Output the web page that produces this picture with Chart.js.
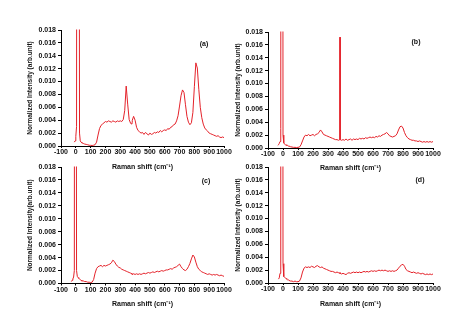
<!DOCTYPE html>
<html>
<head>
<meta charset="utf-8">
<script src="https://cdn.jsdelivr.net/npm/chart.js@4.4.1/dist/chart.umd.min.js"></script>
<style>
  html, body { margin: 0; padding: 0; background: #fff; }
  #wrap { position: relative; width: 474px; height: 331px; }
  #wrap canvas { position: absolute; left: 0; top: 0; }
</style>
</head>
<body>
<div id="wrap">
  <canvas id="chartA" width="474" height="331"></canvas>
  <canvas id="chartB" width="474" height="331"></canvas>
  <canvas id="chartC" width="474" height="331"></canvas>
  <canvas id="chartD" width="474" height="331"></canvas>
</div>
<script>
// Raman shift grid (cm-1), finer around the laser line and the 380 spike
const ramanShift = [
  -40, -35, -30, -25, -20, -15, -10, -5, 0, 5, 10, 15, 20, 25, 30, 35,
  40, 50, 60, 70, 80, 90, 100, 110, 120, 130,
  140, 150, 160, 170, 180, 190, 200, 210, 220, 230,
  240, 250, 260, 270, 280, 290, 300, 310, 320, 330,
  340, 350, 360, 370, 379, 380, 381, 390,
  400, 410, 420, 430, 440, 450, 460, 470, 480, 490,
  500, 510, 520, 530, 540, 550, 560, 570, 580, 590,
  600, 610, 620, 630, 640, 650, 660, 670, 680, 690,
  700, 710, 720, 730, 740, 750, 760, 770, 780, 790,
  800, 810, 820, 830, 840, 850, 860, 870, 880, 890,
  900, 910, 920, 930, 940, 950, 960, 970, 980, 990, 1000
];

const intensityA = [
  null, null, null, null, null, null, 0.0006, 0.0008, 0.0015, 0.003, 0.2, 0.2, 0.2, 0.002, 0.0008, 0.0006,
  0.0005, 0.0004, 0.0003, 0.00025, 0.0002, 0.00012, 0.0001, 0.00008, 0.00012, 0.0002,
  0.0006, 0.0017, 0.0027, 0.0032, 0.0034, 0.0036, 0.0038, 0.0037, 0.0039, 0.0038,
  0.0037, 0.0039, 0.0038, 0.0037, 0.0039, 0.0038, 0.0039, 0.0038, 0.0041, 0.0055,
  0.0093, 0.0065, 0.0041, 0.0035, 0.0034, 0.0037, 0.0040, 0.0046,
  0.0040, 0.0029, 0.0024, 0.0022, 0.0020, 0.0021, 0.0018, 0.0021, 0.0019, 0.0017,
  0.0020, 0.0018, 0.0019, 0.0021, 0.0020, 0.0022, 0.0021, 0.0024, 0.0022, 0.0024,
  0.0025, 0.0024, 0.0027, 0.0026, 0.0029, 0.0030, 0.0033, 0.0034, 0.0039, 0.0047,
  0.0062, 0.0078, 0.0087, 0.0083, 0.0064, 0.0046, 0.0037, 0.0033, 0.0036, 0.0052,
  0.0092, 0.0129, 0.0121, 0.0088, 0.0060, 0.0044, 0.0034, 0.0028, 0.0025, 0.0023,
  0.0020, 0.0019, 0.0018, 0.0017, 0.0016, 0.0015, 0.0016, 0.0014, 0.0013, 0.0014, 0.0013
];

const intensityB = [
  null, 0.0004, 0.0005, 0.0007, 0.0010, 0.0030, 0.2, 0.2, 0.0020, 0.0008, 0.0006, 0.0005, 0.0005, 0.0004, 0.0004, 0.0003,
  0.0003, 0.0002, 0.00015, 0.0001, 0.0001, 0.00008, 0.0001, 0.00015, 0.0005, 0.0011,
  0.0017, 0.0020, 0.0019, 0.0021, 0.0019, 0.0020, 0.0021, 0.0019, 0.0021, 0.0022,
  0.0024, 0.0028, 0.0025, 0.0021, 0.0020, 0.0019, 0.0018, 0.0017, 0.0016, 0.0015,
  0.0014, 0.0013, 0.0013, 0.0012, 0.0013, 0.0172, 0.0013, 0.0012,
  0.0013, 0.0012, 0.0014, 0.0012, 0.0013, 0.0014, 0.0012, 0.0014, 0.0013, 0.0014,
  0.0013, 0.0015, 0.0014, 0.0015, 0.0014, 0.0016, 0.0015, 0.0016, 0.0017, 0.0016,
  0.0017, 0.0016, 0.0018, 0.0017, 0.0019, 0.0018, 0.0020, 0.0021, 0.0022, 0.0024,
  0.0022, 0.0019, 0.0018, 0.0017, 0.0018, 0.0019, 0.0022, 0.0028, 0.0033, 0.0034,
  0.0031, 0.0024, 0.0019, 0.0016, 0.0014, 0.0013, 0.0012, 0.0012, 0.0011, 0.0011,
  0.0010, 0.0011, 0.0010, 0.0009, 0.0010, 0.0009, 0.0010, 0.0009, 0.0010, 0.0009, 0.0010
];

const intensityC = [
  null, null, 0.0003, 0.0005, 0.0007, 0.0010, 0.0020, 0.2, 0.2, 0.0020, 0.0011, 0.0009, 0.0008, 0.0007, 0.0006, 0.0005,
  0.0004, 0.0004, 0.0003, 0.0003, 0.0002, 0.0002, 0.00015, 0.0002, 0.0006, 0.0016,
  0.0023, 0.0026, 0.0027, 0.0028, 0.0026, 0.0028, 0.0027, 0.0028, 0.0029, 0.0030,
  0.0032, 0.0036, 0.0034, 0.0030, 0.0027, 0.0025, 0.0024, 0.0022, 0.0021, 0.0020,
  0.0019, 0.0018, 0.0017, 0.0016, 0.0015, 0.0015, 0.0014, 0.0015,
  0.0014, 0.0015, 0.0014, 0.0015, 0.0014, 0.0015, 0.0016, 0.0015, 0.0016, 0.0017,
  0.0016, 0.0017, 0.0018, 0.0017, 0.0018, 0.0019, 0.0018, 0.0019, 0.0020, 0.0019,
  0.0020, 0.0021, 0.0021, 0.0022, 0.0023, 0.0022, 0.0024, 0.0025, 0.0026, 0.0028,
  0.0030, 0.0026, 0.0023, 0.0021, 0.0020, 0.0022, 0.0026, 0.0031, 0.0038, 0.0044,
  0.0041, 0.0033, 0.0026, 0.0022, 0.0020, 0.0018, 0.0017, 0.0016, 0.0015, 0.0014,
  0.0015, 0.0014, 0.0013, 0.0014, 0.0013, 0.0014, 0.0013, 0.0012, 0.0013, 0.0012, 0.0011
];

const intensityD = [
  null, null, 0.0006, 0.0008, 0.0015, 0.2, 0.2, 0.2, 0.0030, 0.0010, 0.0009, 0.0008, 0.0007, 0.0006, 0.0005, 0.0005,
  0.0004, 0.0003, 0.0003, 0.0002, 0.0003, 0.0002, 0.0002, 0.0003, 0.0008, 0.0017,
  0.0023, 0.0025, 0.0024, 0.0025, 0.0024, 0.0026, 0.0025, 0.0024, 0.0026, 0.0027,
  0.0025, 0.0024, 0.0025, 0.0023, 0.0022, 0.0021, 0.0020, 0.0019, 0.0018, 0.0018,
  0.0017, 0.0016, 0.0017, 0.0016, 0.0015, 0.0016, 0.0015, 0.0014,
  0.0015, 0.0014, 0.0013, 0.0015, 0.0016, 0.0015, 0.0016, 0.0017, 0.0016, 0.0017,
  0.0016, 0.0017, 0.0016, 0.0017, 0.0018, 0.0017, 0.0018, 0.0017, 0.0018, 0.0019,
  0.0018, 0.0019, 0.0018, 0.0019, 0.0020, 0.0019, 0.0020, 0.0019, 0.0020, 0.0019,
  0.0018, 0.0019, 0.0018, 0.0019, 0.0018, 0.0019, 0.0020, 0.0023, 0.0026, 0.0028,
  0.0029, 0.0026, 0.0021, 0.0019, 0.0018, 0.0017, 0.0016, 0.0017, 0.0016, 0.0015,
  0.0016, 0.0015, 0.0014, 0.0015, 0.0014, 0.0013, 0.0014, 0.0013, 0.0014, 0.0013, 0.0014
];

const panelTags = ["(a)", "(b)", "(c)", "(d)"];
const xTitle = "Raman shift (cm\u207B\u00B9)";
const yTitles = [
  "Normalized Intensity (arb.unit)",
  "Normalized Intensity (arb.unit)",
  "Normalized Intensity(arb.unit)",
  "Normalized Intensity (arb.unit)"
];

const RED = "#e4222a";
const FONT = "'Liberation Sans', Arial, sans-serif";

Chart.defaults.font.family = FONT;
Chart.defaults.font.weight = "bold";
Chart.defaults.color = "#111";

const panelTag = {
  id: "panelTag",
  afterDraw(chart, args, opts) {
    const { ctx, chartArea } = chart;
    ctx.save();
    ctx.font = "bold 7px " + FONT;
    ctx.fillStyle = "#111";
    ctx.textAlign = "center";
    ctx.textBaseline = "middle";
    ctx.fillText(opts.text, chartArea.right + opts.dx, chartArea.top + opts.dy);
    ctx.restore();
  },
};

const makePanel = (id, values, cfg) => {
  new Chart(document.getElementById(id), {
    type: "line",
    data: {
      datasets: [{
        data: ramanShift.map((x, i) => ({ x, y: values[i] })),
        borderColor: RED,
        borderWidth: 1,
        pointRadius: 0,
        tension: 0,
        clip: 0.5,
      }],
    },
    options: {
      responsive: false,
      animation: false,
      events: [],
      layout: { padding: cfg.padding },
      plugins: {
        legend: { display: false },
        tooltip: { enabled: false },
        panelTag: { text: cfg.tag, dx: cfg.tagDx, dy: cfg.tagDy },
      },
      scales: {
        x: {
          type: "linear",
          min: -100,
          max: 1000,
          afterFit: (s) => { s.height = cfg.xHeight; },
          ticks: {
            stepSize: 100, autoSkip: false, maxRotation: 0, padding: 0,
            callback: (v) => String(v),
            font: { size: 7, weight: "bold" },
          },
          grid: { drawOnChartArea: false, drawTicks: true, tickLength: 2, color: "#000" },
          border: { color: "#000", width: 1 },
          title: { display: true, text: xTitle, padding: 0, font: { size: 7, weight: "bold" } },
        },
        y: {
          min: 0,
          max: 0.018,
          afterFit: (s) => { s.width = cfg.yWidth; },
          ticks: { stepSize: 0.002, padding: 2, callback: (v) => v.toFixed(3), font: { size: 7, weight: "bold" } },
          grid: { drawOnChartArea: false, drawTicks: true, tickLength: 3, color: "#000" },
          border: { color: "#000", width: 1 },
          title: { display: true, text: cfg.yTitle, padding: 0, font: { size: 6.5, weight: "bold" } },
        },
      },
    },
    plugins: [panelTag],
  });
};

makePanel("chartA", intensityA, {
  tag: panelTags[0], tagDx: -20, tagDy: 14, yTitle: yTitles[0],
  padding: { left: 26, right: 250, top: 30, bottom: 159.5 }, yWidth: 35, xHeight: 25.5,
});
makePanel("chartB", intensityB, {
  tag: panelTags[1], tagDx: -17, tagDy: 10, yTitle: yTitles[1],
  padding: { left: 234.6, right: 41, top: 32, bottom: 158.8 }, yWidth: 33.4, xHeight: 24.2,
});
makePanel("chartC", intensityC, {
  tag: panelTags[2], tagDx: -18, tagDy: 14, yTitle: yTitles[2],
  padding: { left: 26, right: 250, top: 167, bottom: 22.5 }, yWidth: 35, xHeight: 25,
});
makePanel("chartD", intensityD, {
  tag: panelTags[3], tagDx: -13, tagDy: 13, yTitle: yTitles[3],
  padding: { left: 234.6, right: 41, top: 167, bottom: 22.5 }, yWidth: 33.4, xHeight: 25.5,
});
</script>
</body>
</html>
